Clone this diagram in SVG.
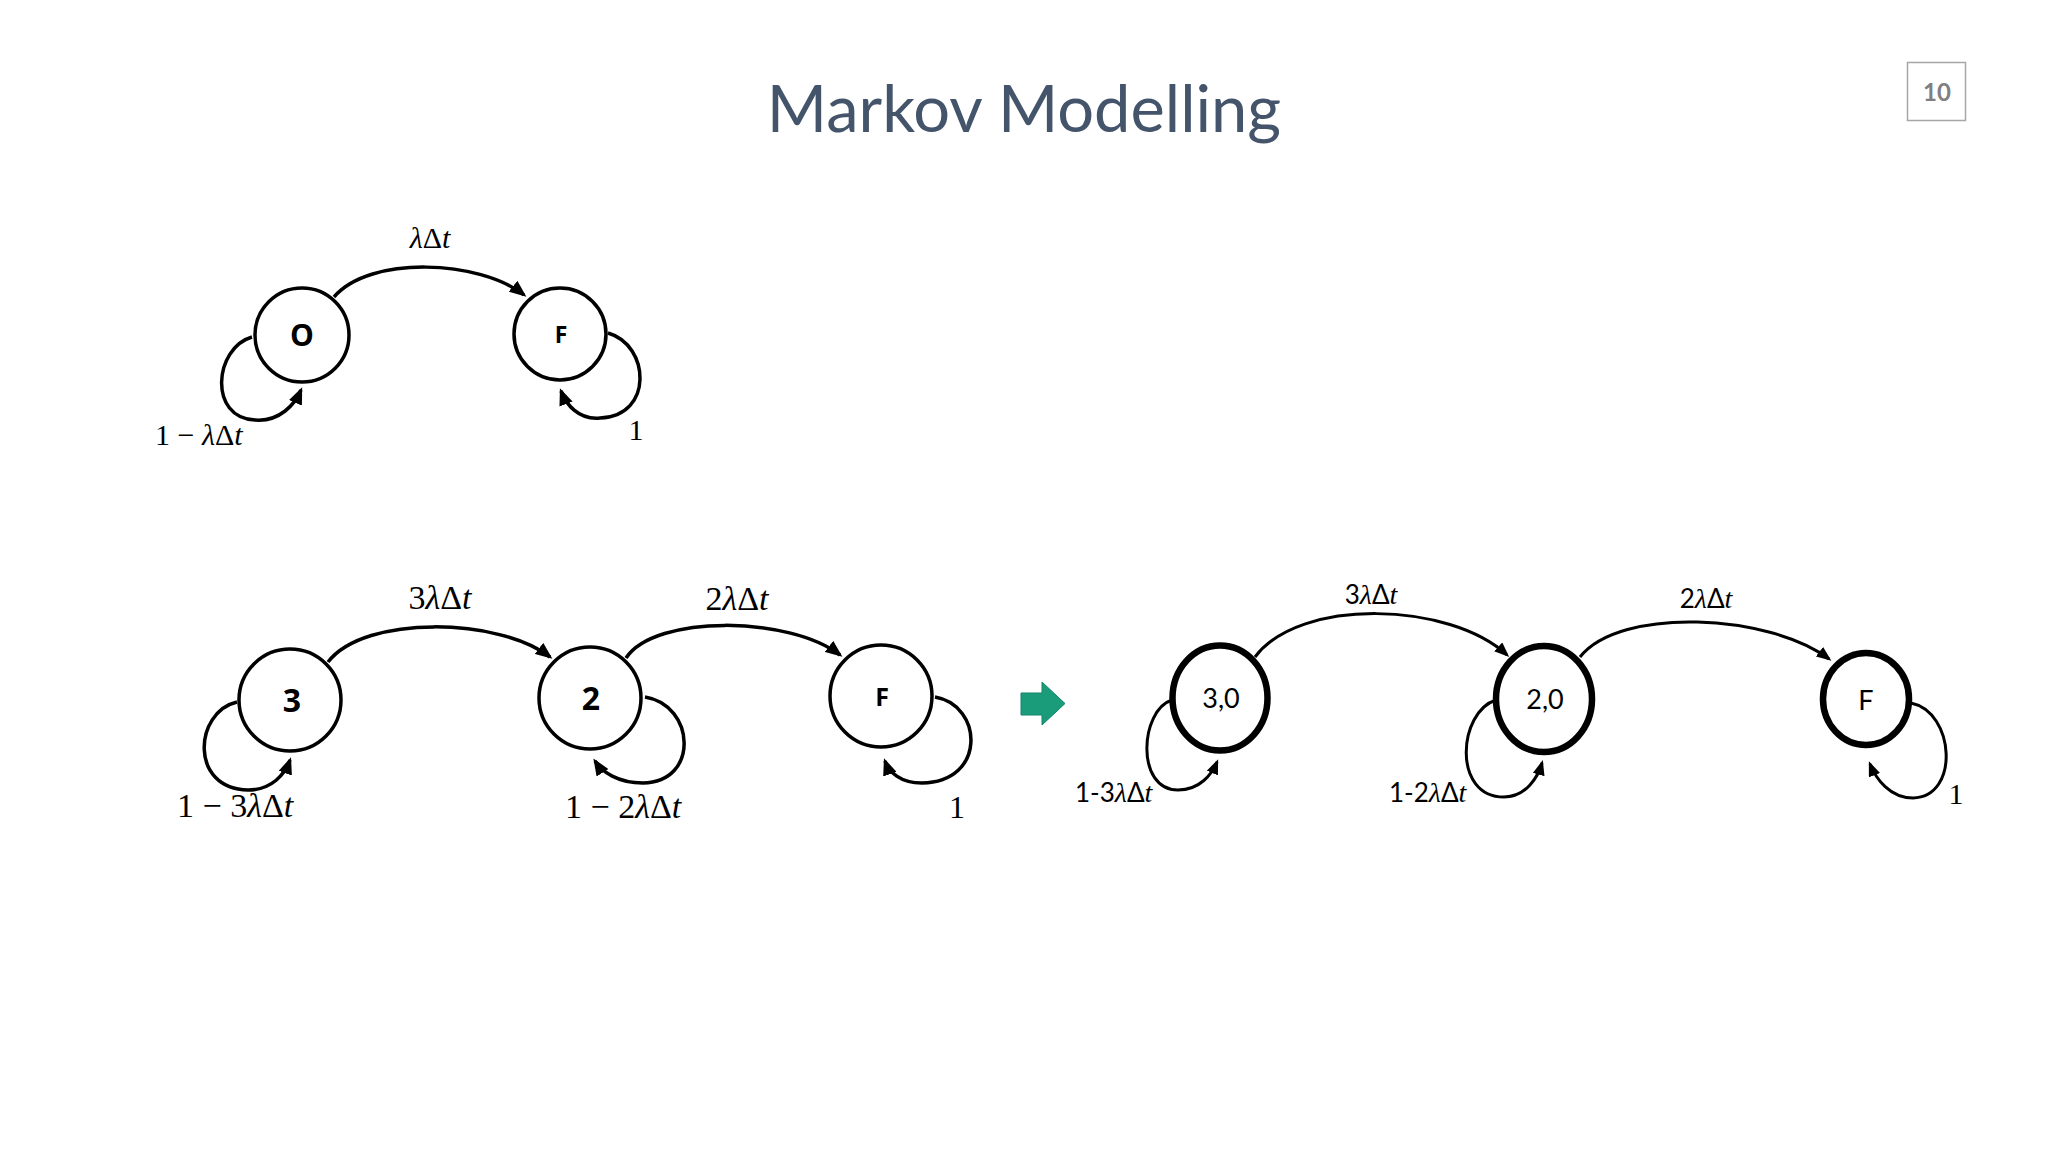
<svg xmlns="http://www.w3.org/2000/svg" width="2048" height="1152" viewBox="0 0 2048 1152">
<style>
.title{font-family:Lato,"Open Sans",sans-serif;font-size:65px;fill:#44546A}
.pgnum{font-family:Lato,"Open Sans",sans-serif;font-size:24px;font-weight:bold;fill:#7f7f7f}
.node{fill:#fff;stroke:#000;stroke-width:3.5}
.nodeB{fill:#fff;stroke:#000;stroke-width:6.5}
.nl{font-family:"Open Sans",Lato,sans-serif;font-weight:bold;fill:#000;text-anchor:middle}
.nr{font-family:Lato,"Open Sans",sans-serif;font-size:27px;fill:#000;text-anchor:middle}
.edge{fill:none;stroke:#000;stroke-width:3.5}
.edgeR{fill:none;stroke:#000;stroke-width:3}
.m{font-family:"Liberation Serif",serif;fill:#000}
.ms{font-family:Lato,"Open Sans",sans-serif;fill:#000}
.i{font-style:italic}
.mi{font-family:"Liberation Serif",serif;font-style:italic;font-size:28px}
</style>
<defs>
<marker id="ah" markerUnits="userSpaceOnUse" markerWidth="18" markerHeight="14" refX="14" refY="7" orient="auto">
<path d="M0,0 L17,7 L0,14 Z" fill="#000"/>
</marker>
<marker id="ahs" markerUnits="userSpaceOnUse" markerWidth="16" markerHeight="12" refX="12" refY="6" orient="auto">
<path d="M0,0 L15,6 L0,12 Z" fill="#000"/>
</marker>
</defs>
<rect width="2048" height="1152" fill="#fff"/>

<g id="title">
<text class="title" x="1024" y="132" text-anchor="middle">Markov Modelling</text>
</g>
<g id="page-number">
<rect x="1907.5" y="62.5" width="58" height="58" fill="#fff" stroke="#a6a6a6" stroke-width="1.5"/>
<text class="pgnum" x="1937" y="101" text-anchor="middle">10</text>
</g>

<!-- connectors -->
<g id="connectors">
<!-- top diagram -->
<path class="edge" d="M334,297 C370,255 480,260 524,295" marker-end="url(#ah)"/>
<path class="edge" d="M252,337 C214,348 208,418 255,420 C280,422 295,404 301,390" marker-end="url(#ah)"/>
<path class="edge" d="M608,333 C650,345 654,416 600,418 C578,420 566,404 561,391" marker-end="url(#ah)"/>
<!-- bottom-left diagram -->
<path class="edge" d="M328,662 C365,614 500,618 550,657" marker-end="url(#ah)"/>
<path class="edge" d="M626,658 C655,614 790,616 840,655" marker-end="url(#ah)"/>
<path class="edge" d="M237,702 C194,712 189,789 248,790 C272,790 285,774 290,760" marker-end="url(#ah)"/>
<path class="edge" d="M645,697 C695,705 700,782 643,783 C618,783 602,772 595,761" marker-end="url(#ah)"/>
<path class="edge" d="M935,697 C983,705 987,782 922,783 C900,783 889,772 885,761" marker-end="url(#ah)"/>
<!-- right diagram -->
<path class="edgeR" d="M1255,657 C1300,597 1450,602 1507,655" marker-end="url(#ahs)"/>
<path class="edgeR" d="M1580,657 C1620,606 1770,614 1829,659" marker-end="url(#ahs)"/>
<path class="edgeR" d="M1172,700 C1140,710 1135,790 1178,790 C1200,790 1212,774 1217,762" marker-end="url(#ahs)"/>
<path class="edgeR" d="M1496,700 C1458,712 1452,797 1504,797 C1526,797 1538,777 1542,763" marker-end="url(#ahs)"/>
<path class="edgeR" d="M1911,703 C1955,712 1960,797 1913,798 C1890,798 1876,779 1870,764" marker-end="url(#ahs)"/>
</g>

<!-- top diagram nodes -->
<g id="node-O">
<circle class="node" cx="302" cy="335" r="47"/>
<text class="nl" x="302" y="346" font-size="30">O</text>
</g>
<g id="node-F1">
<circle class="node" cx="560" cy="334" r="46"/>
<text class="nl" x="561" y="343" font-size="23">F</text>
</g>

<!-- bottom-left nodes -->
<g id="node-3">
<circle class="node" cx="290" cy="700" r="51"/>
<text class="nl" x="292" y="712" font-size="32">3</text>
</g>
<g id="node-2">
<circle class="node" cx="590" cy="698" r="51"/>
<text class="nl" x="591" y="710" font-size="32">2</text>
</g>
<g id="node-F2">
<circle class="node" cx="881" cy="696" r="51"/>
<text class="nl" x="882" y="706" font-size="25">F</text>
</g>

<!-- transformation arrow -->
<g id="transform-arrow">
<path d="M1021,693 L1042,693 L1042,682 L1065,703.5 L1042,725 L1042,715 L1021,715 Z" fill="#1a9c7b" stroke="#12856a" stroke-width="1"/>
</g>

<!-- right nodes -->
<g id="node-30">
<ellipse class="nodeB" cx="1220" cy="698" rx="47.5" ry="52.5"/>
<text class="nr" x="1221" y="708">3,0</text>
</g>
<g id="node-20">
<ellipse class="nodeB" cx="1544" cy="699" rx="48" ry="53"/>
<text class="nr" x="1545" y="709">2,0</text>
</g>
<g id="node-F3">
<ellipse class="nodeB" cx="1866" cy="699" rx="43" ry="46"/>
<text class="nr" x="1866" y="710">F</text>
</g>

<!-- labels -->
<g id="labels">
<text class="m" x="430" y="248" font-size="30" text-anchor="middle"><tspan class="i">λ</tspan>Δ<tspan class="i">t</tspan></text>
<text class="m" x="155" y="445" font-size="30">1 − <tspan class="i">λ</tspan>Δ<tspan class="i">t</tspan></text>
<text class="m" x="636" y="440" font-size="30" text-anchor="middle">1</text>

<text class="m" x="440" y="609" font-size="34" text-anchor="middle">3<tspan class="i">λ</tspan>Δ<tspan class="i">t</tspan></text>
<text class="m" x="737" y="610" font-size="34" text-anchor="middle">2<tspan class="i">λ</tspan>Δ<tspan class="i">t</tspan></text>
<text class="m" x="177" y="817" font-size="34">1 − 3<tspan class="i">λ</tspan>Δ<tspan class="i">t</tspan></text>
<text class="m" x="565" y="818" font-size="34">1 − 2<tspan class="i">λ</tspan>Δ<tspan class="i">t</tspan></text>
<text class="m" x="957" y="818" font-size="32" text-anchor="middle">1</text>

<text class="ms" x="1371" y="604" font-size="26" text-anchor="middle">3<tspan class="mi">λ</tspan>Δ<tspan class="mi">t</tspan></text>
<text class="ms" x="1706" y="608" font-size="26" text-anchor="middle">2<tspan class="mi">λ</tspan>Δ<tspan class="mi">t</tspan></text>
<text class="ms" x="1075" y="802" font-size="26">1-3<tspan class="mi">λ</tspan>Δ<tspan class="mi">t</tspan></text>
<text class="ms" x="1389" y="802" font-size="26">1-2<tspan class="mi">λ</tspan>Δ<tspan class="mi">t</tspan></text>
<text class="m" x="1956" y="804" font-size="30" text-anchor="middle">1</text>
</g>
</svg>
